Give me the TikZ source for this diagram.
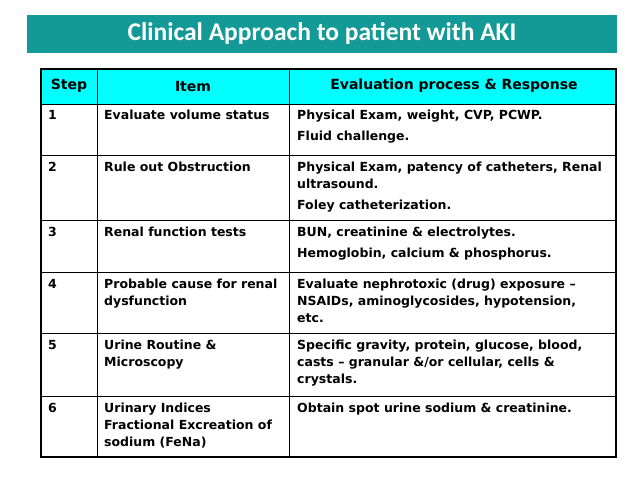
\documentclass[tikz,border=0pt]{standalone}
\usepackage{fontspec}
\setmainfont{DejaVu Sans}
\newfontfamily\titlefont{Carlito}
\definecolor{teal1}{RGB}{20,154,150}
\definecolor{cyan1}{RGB}{0,255,255}
\begin{document}
\begin{tikzpicture}[x=1pt,y=-1pt,
  cell/.style={anchor=north west,inner sep=0pt,align=left,font=\bfseries\fontsize{12.5}{17}\selectfont},
  hd/.style={anchor=center,inner sep=0pt,font=\bfseries\fontsize{14}{16}\selectfont}]
\useasboundingbox (0,0) rectangle (638,479);
\fill[white] (0,0) rectangle (638,479);
\fill[teal1] (27,15) rectangle (617,53);
\node[text=white,font=\titlefont\bfseries\fontsize{25.5}{28}\selectfont] (title) at (322,34) {Clinical Approach to patient with AKI};
\fill[cyan1] (41,69) rectangle (616,104);
\foreach \y in {104,155,220,272,333,396} \draw[line width=1pt] (41,\y) -- (616,\y);
\draw[line width=1pt] (97,69) -- (97,457) (289,69) -- (289,457);
\draw[line width=2pt] (41,69) rectangle (616,457);
\node[hd] (h1) at (69,86) {Step};
\node[hd] (h2) at (193,86) {Item};
\node[hd] (h3) at (454,86) {Evaluation process \& Response};
\foreach \n/\t/\a/\b in {
 1/110/Evaluate volume status/{Physical Exam, weight, CVP, PCWP.\\[4pt]Fluid challenge.},
 2/162/Rule out Obstruction/{Physical Exam, patency of catheters, Renal\\ultrasound.\\[4pt]Foley catheterization.},
 3/227/Renal function tests/{BUN, creatinine \& electrolytes.\\[4pt]Hemoglobin, calcium \& phosphorus.},
 4/279/{Probable cause for renal\\dysfunction}/{Evaluate nephrotoxic (drug) exposure –\\NSAIDs, aminoglycosides, hypotension,\\etc.},
 5/340/{Urine Routine \&\\Microscopy}/{Specific gravity, protein, glucose, blood,\\casts – granular \&/or cellular, cells \&\\crystals.},
 6/403/{Urinary Indices\\Fractional Excreation of\\sodium (FeNa)}/{Obtain spot urine sodium \& creatinine.}} {
 \node[cell] (s\n) at (48,\t) {\n};
 \node[cell] (i\n) at (104,\t) {\a};
 \node[cell] (e\n) at (297,\t) {\b};
}
\end{tikzpicture}
\end{document}
